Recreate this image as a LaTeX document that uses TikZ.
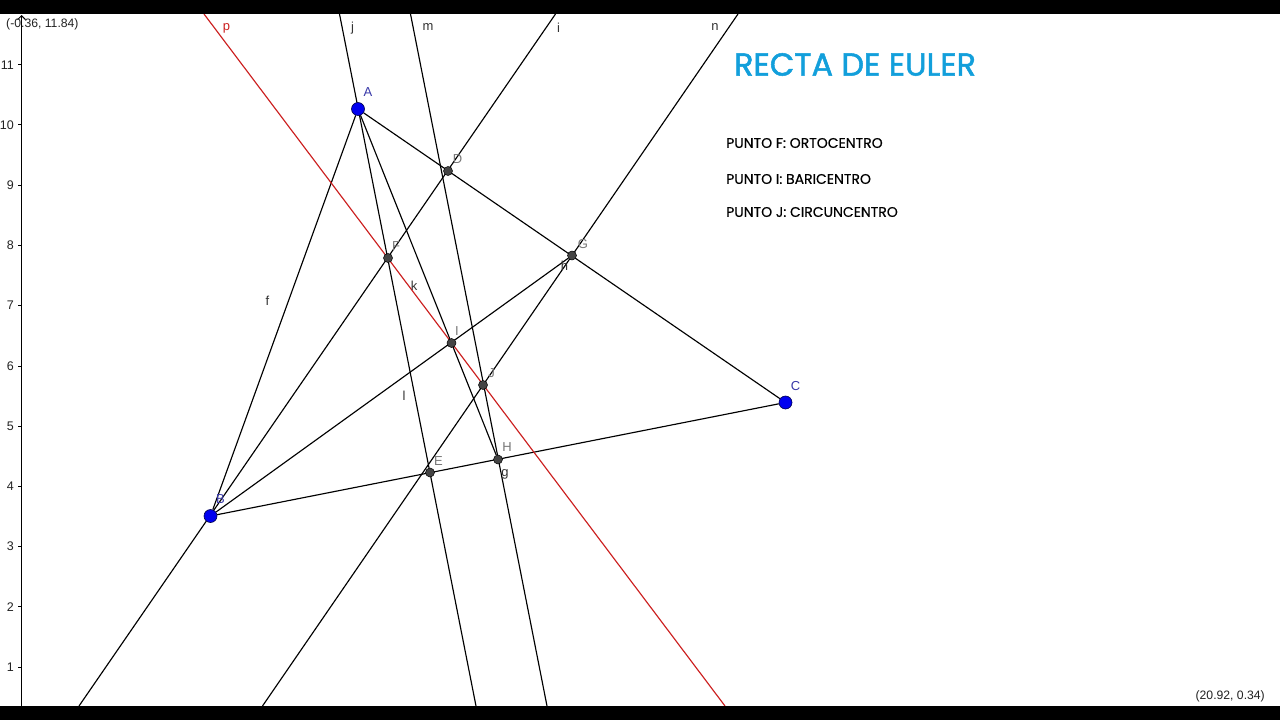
\documentclass[tikz,border=0pt]{standalone}
\usepackage{xcolor}
\usepackage{fontspec}
\setmainfont{Liberation Sans}
\newfontfamily\headfont{Poppins}[FakeBold=1.6]
\newfontfamily\notefont{Poppins}[FakeBold=0.4]
\usetikzlibrary{arrows.meta, backgrounds}
\definecolor{eulerblue}{HTML}{129FDB}
\definecolor{eulerred}{HTML}{CC1F1F}
\definecolor{freeblue}{HTML}{0000F0}
\definecolor{freelabel}{HTML}{3838A8}
\definecolor{pointgray}{HTML}{444444}
\definecolor{labelgray}{HTML}{777777}
\definecolor{axistext}{HTML}{222222}
\tikzset{
  freepoint/.style={circle, draw=black!70!blue, fill=freeblue, line width=0.6pt, minimum size=13pt, inner sep=0pt},
  deppoint/.style={circle, draw=black, fill=pointgray, line width=0.5pt, minimum size=9pt, inner sep=0pt},
  geoline/.style={black, line width=1.15pt},
  plainlabel/.style={inner sep=0pt, font=\fontsize{13}{13}\selectfont},
  coordtext/.style={axistext, inner sep=0pt, font=\fontsize{12.2}{13}\selectfont},
  notetext/.style={anchor=west, inner sep=0pt, black, font=\fontsize{14}{14}\selectfont\notefont}
}

\begin{document}
\begin{tikzpicture}[x=1pt, y=-1pt]
  \useasboundingbox (0,0) rectangle (1280,720);

  \node[freepoint] (A) at (358,109) {};
  \node[freepoint] (B) at (210.5,516) {};
  \node[freepoint] (C) at (785.5,402.5) {};
  \node[deppoint] (D) at (448,171) {};
  \node[deppoint] (E) at (430,472.5) {};
  \node[deppoint] (F) at (388,258) {};
  \node[deppoint] (G) at (572,255.5) {};
  \node[deppoint] (H) at (498,459.5) {};
  \node[deppoint] (I) at (451.5,343) {};
  \node[deppoint] (J) at (483,385) {};

  \coordinate (jtop) at (339.5,14);
  \coordinate (jbot) at (476,706);
  \coordinate (mtop) at (410.5,14);
  \coordinate (mbot) at (547,706);
  \coordinate (itop) at (555.5,14);
  \coordinate (ibot) at (79,706);
  \coordinate (ntop) at (738,14);
  \coordinate (nbot) at (262.5,706);
  \coordinate (ptop) at (204,14);
  \coordinate (pbot) at (725,706);
  \coordinate (axistop) at (21.5,15);
  \coordinate (axisbot) at (21.5,706);

  \begin{scope}[on background layer]
    \fill[white] (0,0) rectangle (1280,720);
    \draw[geoline] (A) -- (B);
    \draw[geoline] (A) -- (C);
    \draw[geoline] (B) -- (C);
    \draw[geoline] (A) -- (H);
    \draw[geoline] (B) -- (G);
    \draw[geoline] (jtop) -- (jbot);
    \draw[geoline] (mtop) -- (mbot);
    \draw[geoline] (itop) -- (ibot);
    \draw[geoline] (ntop) -- (nbot);
    \draw[eulerred, line width=1.15pt] (ptop) -- (pbot);
  \end{scope}

  \draw[black, line width=1pt, -{Straight Barb[length=4pt, width=8pt]}] (axisbot) -- (axistop);
  \foreach \ylab/\ypos in {11/64.5, 10/124.5, 9/185, 8/245, 7/305, 6/366, 5/426, 4/486, 3/546, 2/606.5, 1/667} {
    \draw[black, line width=0.8pt] (18,\ypos) -- (21.5,\ypos);
    \node[axistext, anchor=east, inner sep=0pt, font=\fontsize{12.5}{13}\selectfont] (tick\ylab) at (14,\ypos+0.5) {\ylab};
  }

  \node[coordtext, anchor=west] (corner1) at (6,24.5) {(-0.36, 11.84)};
  \node[coordtext, anchor=east] (corner2) at (1265,696) {(20.92, 0.34)};

  \node[plainlabel, freelabel] (labA) at (368,92.5) {A};
  \node[plainlabel, freelabel] (labB) at (220.5,499.5) {B};
  \node[plainlabel, freelabel] (labC) at (795.5,386) {C};
  \node[plainlabel, labelgray] (labD) at (457.5,159) {D};
  \node[plainlabel, labelgray] (labE) at (438.5,461) {E};
  \node[plainlabel, labelgray] (labF) at (396,246) {F};
  \node[plainlabel, labelgray] (labG) at (583,244) {G};
  \node[plainlabel, labelgray] (labH) at (507,447) {H};
  \node[plainlabel, labelgray] (labI) at (457,331) {I};
  \node[plainlabel, labelgray] (labJ) at (491.5,373) {J};

  \node[plainlabel, eulerred] (labp) at (226.5,28) {p};
  \node[plainlabel, black!80] (labj) at (352.5,28) {j};
  \node[plainlabel, black!80] (labm) at (428,27.5) {m};
  \node[plainlabel, black!80] (labi) at (558.5,27.5) {i};
  \node[plainlabel, black!80] (labn) at (715,27.5) {n};
  \node[plainlabel, black!80] (labf) at (267.5,300.5) {f};
  \node[plainlabel, black!80] (labk) at (414,286) {k};
  \node[plainlabel, black!80] (labl) at (404,395.5) {l};
  \node[plainlabel, black!80] (labg) at (505,474) {g};
  \node[plainlabel, black!80] (labh) at (564.5,266) {h};

  \node[eulerblue, anchor=west, inner sep=0pt, font=\fontsize{31.8}{32}\selectfont\headfont] (title) at (734,64.5) {RECTA DE EULER};
  \node[notetext] (noteF) at (726,143) {PUNTO F: ORTOCENTRO};
  \node[notetext] (noteI) at (726,179) {PUNTO I: BARICENTRO};
  \node[notetext] (noteJ) at (726,212) {PUNTO J: CIRCUNCENTRO};

  \fill[black] (0,0) rectangle (1280,14);
  \fill[black] (0,706) rectangle (1280,720);
\end{tikzpicture}
\end{document}
